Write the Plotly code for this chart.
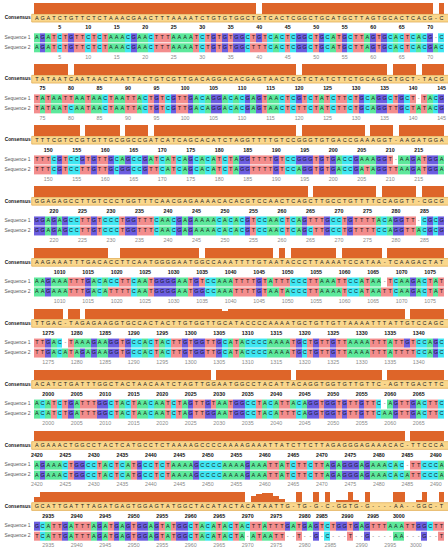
import plotly.graph_objects as go

# Alignment excerpts, 72 columns per block
consensus = [
    "AGATCTGTTC" "TCTAAACGAA" "CTTTAAAATC" "TGTGTGGCTG" "TCACTCGGCT" "GCATGCTTAG" "TGCACTCACG" "-C",
    "TATAATCAAT" "AACTAATTAC" "TGTCGTTGAC" "AGGACACGAG" "TAACTCGTCT" "ATCTTCTGCA" "GGCTGCT-TA" "CG",
    "TTTCGTCCGT" "GTTGCGGCCG" "ATCATCAGCA" "CATCTAGGTT" "TTGTCCGGGT" "GTGACCGAAA" "GGT-AAGATG" "GA",
    "GGAGAGCCTT" "GTCCCTGGTT" "TCAACGAGAA" "AACACACGTC" "CAACTCAGCT" "TGCCTGTTTT" "CCAGGTT-CG" "CG",
    "AAGAAATTTG" "ACACCTTCAA" "TGGGGAATGG" "CCAAATTTTG" "TAATACCCTT" "AAAATCCATA" "A-TCAAGACT" "AT",
    "TTGAC-TAGA" "GAAGGTGCCA" "CTACTTGTGG" "TTGCATACCC" "CAAAATGCTG" "TTGTTAAAAT" "TTATTGTCCA" "GC",
    "ACATCTGATT" "TGGCTACTAA" "CAATCTAGTT" "GGAATGGCCT" "ACATTACAGG" "TGGTGTTGTT" "C-AGTTGACT" "TC",
    "AGAAACTGGC" "CTACTCATGC" "CTCTAAAAGC" "CCCAAAAGAA" "ATTATCTTCT" "TAGAGGGAGA" "AACAC-TTCC" "CA",
    "GCATTGATTT" "AGATGAGTGG" "AGTATGGCTA" "CATACTACAT" "AATTG-TG-G" "-C-GGTG-G-" "---AA--GGC" "-T",
]
sequence_1 = [
    "AGATCTGTTC" "TCTAAACGAA" "CTTTAAAATC" "TGTGTGGCTG" "TCACTCGGCT" "GCATGCTTAG" "TGCACTCACG" "-C",
    "TATAATTAAT" "AACTAATTAC" "TGTCGTTGAC" "AGGACACGAG" "TAACTCGTCT" "ATCTTCTGCA" "GGCTGCT-TA" "CG",
    "TTTCGTCCGT" "GTTGCAGCCG" "ATCATCAGCA" "CATCTAGGTT" "TTGTCCGGGT" "GTGACCGAAA" "GGT-AAGATG" "GA",
    "GGAGAGCCTT" "GTCCCTGGTT" "TCAACGAGAA" "AACACACGTC" "CAACTCAGTT" "TGCCTGTTTT" "ACAGGTT-CG" "CG",
    "AAGAAATTTG" "ACACCTTCAA" "TGGGGAATGT" "CCAAATTTTG" "TATTTCCCTT" "AAATTCCATA" "A-TCAAGACT" "AT",
    "TTGAC-TAAA" "GAAGGTGCCA" "CTACTTGTGG" "TTGCATACCC" "CAAAATGCTG" "TTGTTAAAAT" "TTATTGTCCA" "GC",
    "ACATCTGATT" "TGGCTACTAA" "CAATCTAGTT" "GTAATGGCCT" "ACATTACAGG" "TGGTGTTGTT" "C-AGTTGACT" "TC",
    "AGAAACTGGC" "CTACTCATGC" "CTCTAAAAGC" "CCCAAAAGAA" "ATTATCTTCT" "TAGAGGGAGA" "AACAC-TTCC" "CA",
    "GCATTGATTT" "AGATGAGTGG" "AGTATGGCTA" "CATACTACTT" "ATTTGATGAG" "TCTGGTGAGT" "TTAAATTGGC" "TT",
]
sequence_2 = [
    "AGATCTGTTC" "TCTAAACGAA" "CTTTAAAATC" "TGTGTGGCTT" "TCACTCGGCT" "GCATGCTTAG" "TGCACTCACG" "AC",
    "TATAATCAAT" "AACTAATTAC" "TGTCGTTGAC" "AGGACACGAG" "TAACTCTTCT" "ATCTTCTGCA" "GGTTGCTATA" "CG",
    "TTTCGTCCTT" "GTTGCGGCCG" "TTCATCAGCA" "CATCTAGGTT" "TTGTCCAGGT" "GTGACCGATA" "GGTTAAGATG" "GA",
    "GGAGAGCCTT" "GTCCCTGGTT" "TCAACGAGAA" "AACACACGTC" "CAACTCAGCT" "TGCCTGTTTT" "CCAGGTTACG" "CG",
    "AAGAAATTTG" "ACATTTTCAA" "TGGGGAATGG" "CCAAATTTTG" "TAATACCCTT" "AAAATCCATA" "ATTCAAGACT" "AT",
    "TTGACATAGA" "GAAGGTGCCA" "CTACTTGTGG" "TTGCATACCC" "CAAAATGCTG" "TTGTTAAAAT" "TTATTTTCCA" "GC",
    "ACATCTGATT" "TGGCTACTAA" "CAATCTAGTT" "GGAATGGCCT" "ACATTTCAGG" "TGGTGTTGTT" "CAAGTTGACT" "TC",
    "AGAAACTGGC" "CTACTCATGC" "CTCTAAAAGC" "CCCAAAAGAA" "ATTATCTTCT" "TAGAGGGAGA" "AACACATTCC" "CA",
    "TCATTGATTT" "AGATGAGTGG" "AGTATGGCTA" "CATACTA-AT" "AATT--T--G" "-C---T--G-" "---AA---G-" "-T",
]
# identity graph height per column, 0 (none) .. 9 (full)
identity = [
    "9999999999" "9999999999" "9999999999" "9999999990" "9999999999" "9999999999" "9999999999" "09",
    "9999990999" "9999999999" "9999999999" "9999999999" "9999990999" "9999999999" "9909999099" "99",
    "9999999909" "9999909999" "0999999999" "9999999999" "9999990999" "9999999909" "9990999999" "99",
    "9999999999" "9999999999" "9999999999" "9999999999" "9999999909" "9999999999" "0999999099" "99",
    "9999999999" "9990099999" "9999999990" "9999999999" "9909099999" "9990999999" "9099999999" "99",
    "9999909909" "9999999999" "9999999999" "9997999999" "9999999999" "9999999999" "9999909999" "99",
    "9999999999" "9999999999" "9999999999" "9099999999" "9999909999" "9999999999" "9099999999" "99",
    "9999999999" "9999999999" "9999999999" "9999999999" "9999999999" "9999999999" "9999909999" "99",
    "4999999999" "9999999999" "9999999999" "9999999057" "8853009009" "0902292090" "0009900290" "09",
]
# position numbering: first label, its column, last label (step 5)
first_label = [5, 75, 150, 220, 1010, 1275, 2000, 2420]
first_label_col = [5, 2, 3, 4, 5, 3, 3, 1]
last_label = [70, 145, 215, 285, 1075, 1340, 2065, 2490]
# last block numbering is uneven
last_labels = [2935, 2940, 2945, 2950, 2955, 2960, 2965, 2970, 2975, 2980, 2985, 2990, 2995, 3000]
last_top_cols = [3, 8, 13, 18, 23, 28, 33, 38, 43, 48, 51, 55.5, 60, 64.5]
last_bottom_cols = [3, 8, 13, 18, 23, 28, 33, 38, 43, 48, 52.5, 58, 63, 67.5]

base_code = {"A": 0, "C": 1, "G": 2, "T": 3, "-": 4}
base_scale = [[0, "#5DE89B"], [0.25, "#40E6F2"], [0.5, "#6B5DE0"], [0.75, "#F38D8D"], [1, "#FFFFFF"]]
FONT = "Liberation Sans, Arial, sans-serif"

top0, step = 3.3, 61.05
fig = go.Figure()

bar_x, bar_base, bar_h = [], [], []
cons_x, cons_y, cons_t = [], [], []
cell_x, cell_y, cell_t = [], [], []
gap_x, gap_y = [], []
tt_x, tt_y, tt_t = [], [], []
bt_x, bt_y, bt_t = [], [], []
lab_y = []

for b in range(len(consensus)):
    top = top0 + b * step
    n = len(consensus[b])
    assert n == len(sequence_1[b]) == len(sequence_2[b]) == len(identity[b]) == 72, b
    cols = list(range(1, n + 1))

    for c, h in zip(cols, identity[b]):
        if h != "0":
            bar_x.append(c)
            bar_base.append(top + 10.3)
            bar_h.append(-10.3 * int(h) / 9)

    fig.add_shape(type="rect", xref="x", yref="y", x0=0.1, x1=73.3, y0=top + 11, y1=top + 18.7,
                  fillcolor="#FAD78C", line=dict(color="#E2AE58", width=0.8), layer="below")
    for c, ch in zip(cols, consensus[b]):
        cons_x.append(c)
        cons_y.append(top + 14.9)
        cons_t.append(ch)

    for seq, yc in ((sequence_1[b], top + 34.5), (sequence_2[b], top + 44.5)):
        fig.add_trace(go.Heatmap(z=[[base_code[ch] for ch in seq]], x0=1, dx=1, y0=yc, dy=9,
                                 zmin=0, zmax=4, colorscale=base_scale, showscale=False,
                                 hoverinfo="skip"))
        for c, ch in zip(cols, seq):
            if ch == "-":
                gap_x.append(c)
                gap_y.append(yc)
            else:
                cell_x.append(c)
                cell_y.append(yc)
                cell_t.append(ch)
    lab_y.append(top)

    if b < len(first_label):
        labels = list(range(first_label[b], last_label[b] + 1, 5))
        tcols = [first_label_col[b] + v - first_label[b] for v in labels]
        bcols = tcols
    else:
        labels, tcols, bcols = last_labels, last_top_cols, last_bottom_cols
    for v, tc, bc in zip(labels, tcols, bcols):
        tt_x.append(tc)
        tt_y.append(top + 24.8)
        tt_t.append(str(v))
        bt_x.append(bc)
        bt_y.append(top + 53.9)
        bt_t.append(str(v))

fig.add_trace(go.Bar(x=bar_x, y=bar_h, base=bar_base, width=1, marker=dict(color="#DE6529", line=dict(width=0)),
                     hoverinfo="skip"))
fig.add_trace(go.Scatter(x=cons_x, y=cons_y, text=cons_t, mode="text", textposition="middle center",
                         textfont=dict(family=FONT, size=5.5, color="#222222"), hoverinfo="skip"))
fig.add_trace(go.Scatter(x=cell_x, y=cell_y, text=cell_t, mode="text", textposition="middle center",
                         textfont=dict(family=FONT, size=5.5, color="#1A1A1A"), hoverinfo="skip"))
fig.add_trace(go.Scatter(x=gap_x, y=gap_y, text=["-"] * len(gap_x), mode="text", textposition="middle center",
                         textfont=dict(family=FONT, size=5.5, color="#666666"), hoverinfo="skip"))
fig.add_trace(go.Scatter(x=tt_x, y=tt_y, text=tt_t, mode="text", textposition="middle center",
                         textfont=dict(family="Liberation Sans, Arial", size=5.3, color="#111111", weight="bold"),
                         hoverinfo="skip"))
fig.add_trace(go.Scatter(x=bt_x, y=bt_y, text=bt_t, mode="text", textposition="middle center",
                         textfont=dict(family=FONT, size=5.3, color="#8A8A8A"), hoverinfo="skip"))
fig.add_trace(go.Scatter(x=[-0.1] * len(lab_y), y=[t + 14.9 for t in lab_y], text=["Consensus"] * len(lab_y),
                         mode="text", textposition="middle left",
                         textfont=dict(family=FONT, size=4.8, color="#111111", weight="bold"), hoverinfo="skip"))
fig.add_trace(go.Scatter(x=[-0.1] * (2 * len(lab_y)),
                         y=[t + 34.5 for t in lab_y] + [t + 44.5 for t in lab_y],
                         text=["Sequence 1"] * len(lab_y) + ["Sequence 2"] * len(lab_y),
                         mode="text", textposition="middle left",
                         textfont=dict(family=FONT, size=4.9, color="#555555"), hoverinfo="skip"))

fig.update_layout(width=448, height=550, margin=dict(l=0, r=0, t=0, b=0),
                  paper_bgcolor="white", plot_bgcolor="white", showlegend=False, bargap=0,
                  xaxis=dict(range=[-5.465, 73.13], visible=False, fixedrange=True),
                  yaxis=dict(range=[550, 0], visible=False, fixedrange=True))
# page body has a default margin; remove it so the figure fills the window
fig.write_html("out.html", config=dict(staticPlot=True),
               post_script="document.body.style.margin='0';document.body.style.overflow='hidden';")
